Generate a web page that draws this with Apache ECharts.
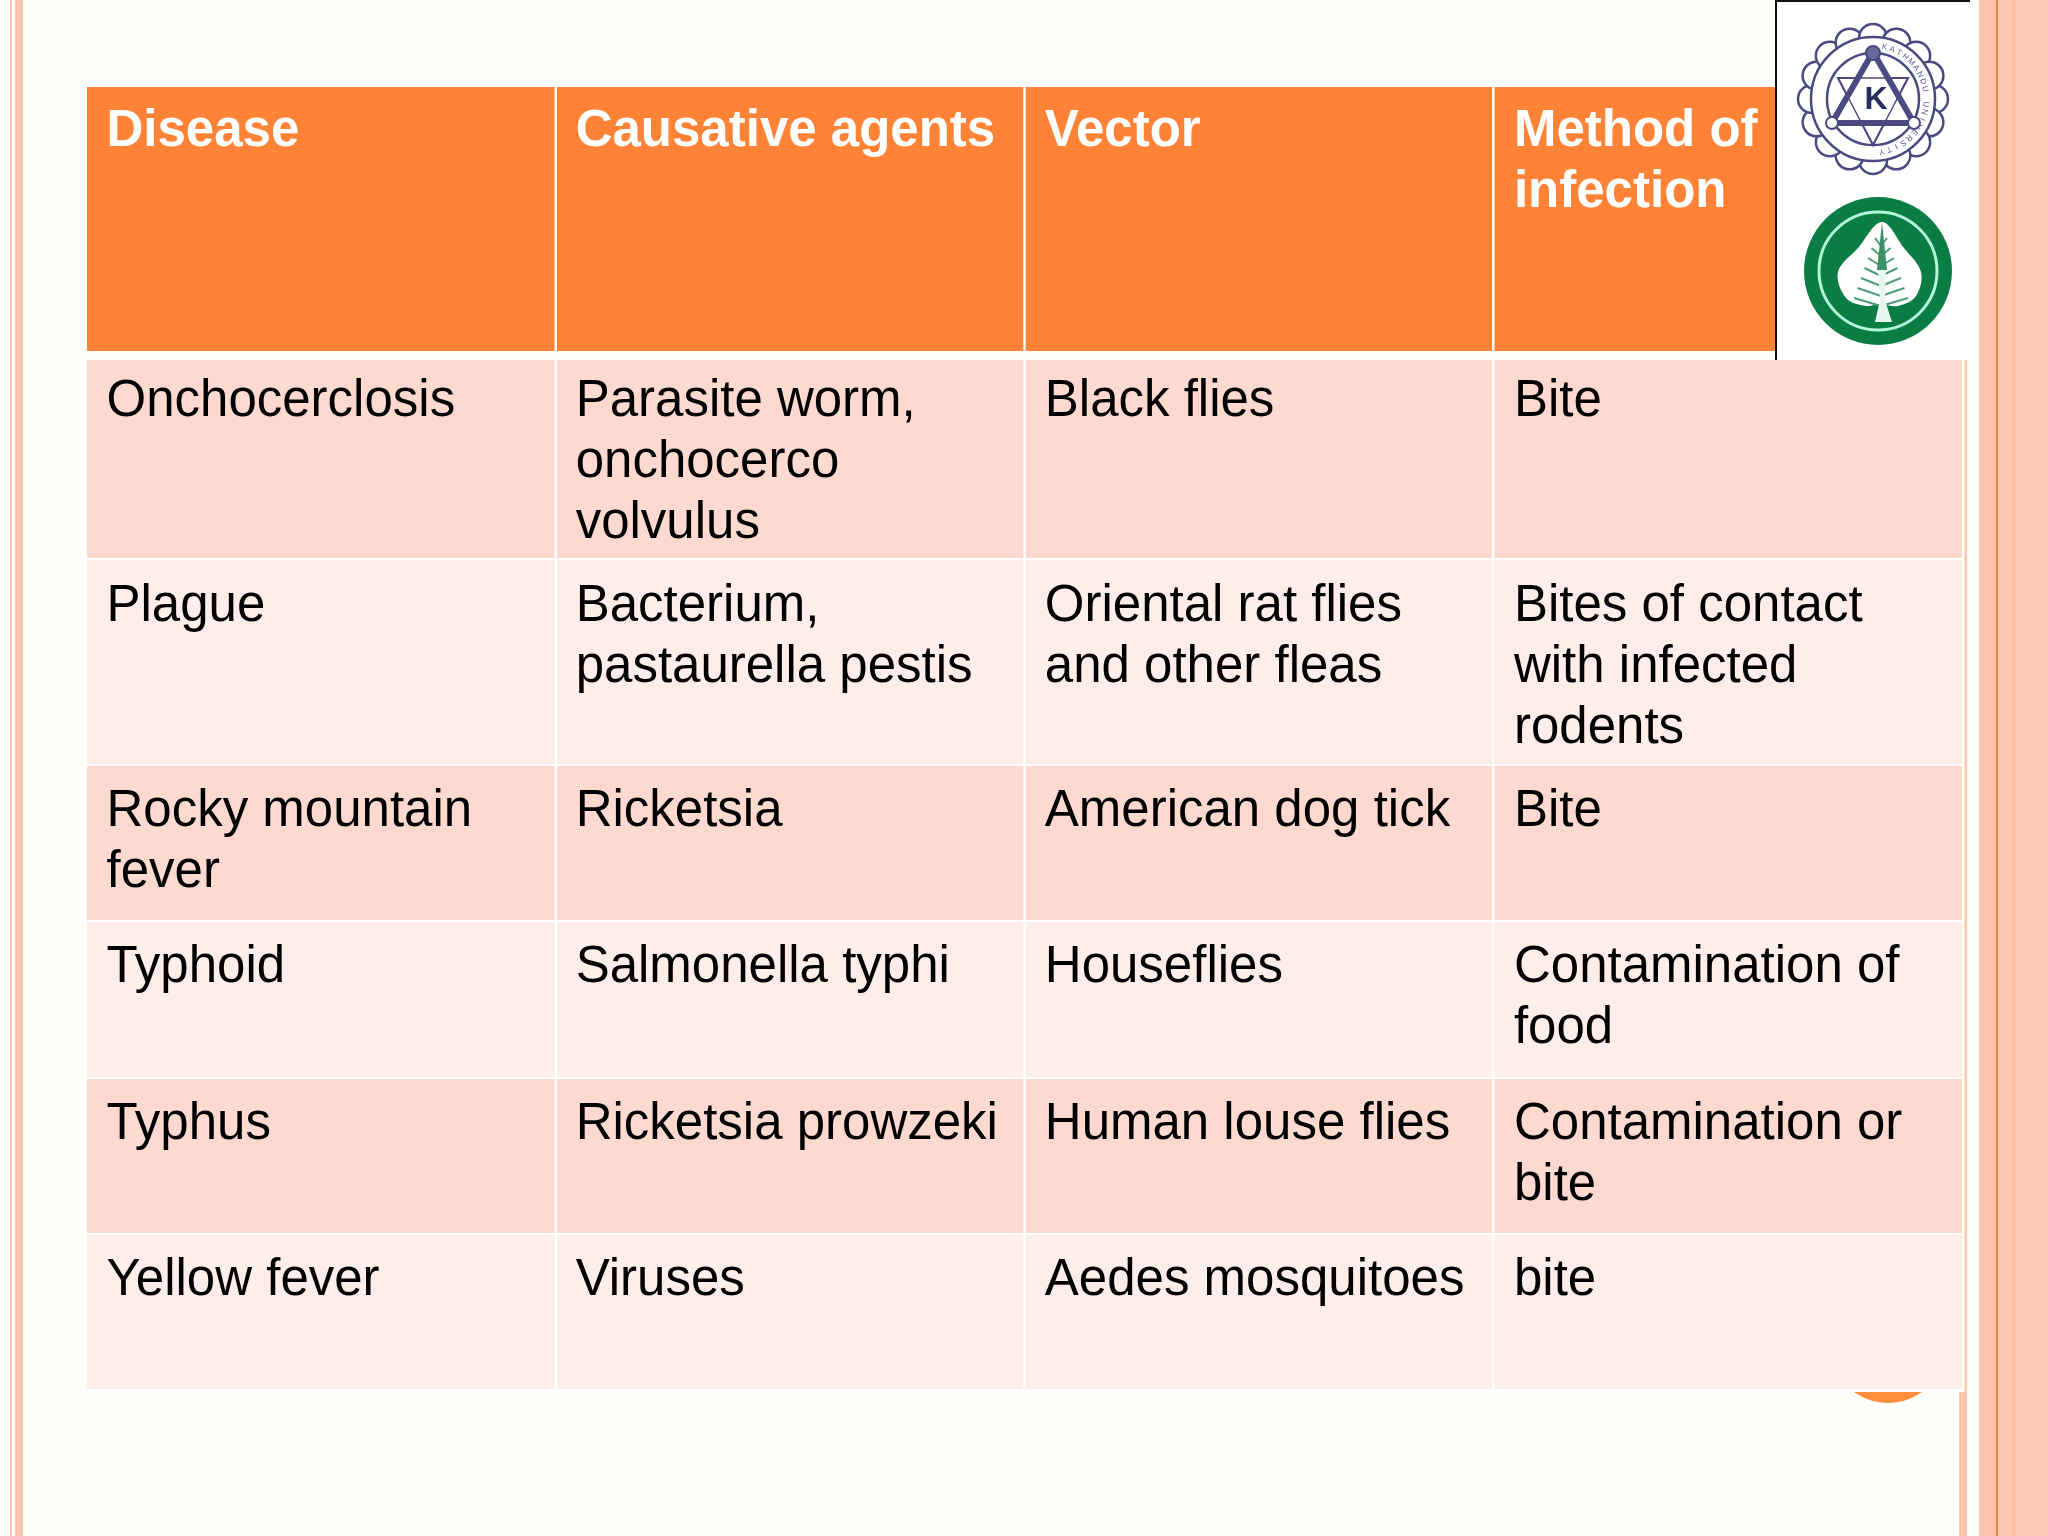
<!DOCTYPE html>
<html lang="en">
<head>
<meta charset="UTF-8">
<title>Vector borne diseases</title>
<script src="https://cdnjs.cloudflare.com/ajax/libs/echarts/6.0.0/echarts.min.js"></script>
<style>
  html, body { margin: 0; padding: 0; background: #fffffc; }
  #chart { width: 2048px; height: 1536px; }
</style>
</head>
<body>
<div id="chart"></div>
<script>
// table content
const columns = ['Disease', 'Causative agents', 'Vector', 'Method of\ninfection'];
const diseases = ['Onchocerclosis', 'Plague', 'Rocky mountain\nfever', 'Typhoid', 'Typhus', 'Yellow fever'];
const agents = ['Parasite worm,\nonchocerco\nvolvulus', 'Bacterium,\npastaurella pestis', 'Ricketsia', 'Salmonella typhi', 'Ricketsia prowzeki', 'Viruses'];
const vectors = ['Black flies', 'Oriental rat flies\nand other fleas', 'American dog tick', 'Houseflies', 'Human louse flies', 'Aedes mosquitoes'];
const methods = ['Bite', 'Bites of contact\nwith infected\nrodents', 'Bite', 'Contamination of\nfood', 'Contamination or\nbite', 'bite'];

// row heights of the slide's table, header first
const rowHeights = [273, 199, 206, 156, 157, 156, 156];
const rowTops = rowHeights.map((h, i) => rowHeights.slice(0, i).reduce((a, b) => a + b, 0));
const textPad = [14, 11, 17, 16, 16, 16, 16];

const bodyRows = diseases.map((d, i) => [d, agents[i], vectors[i], methods[i]]);
const cells = [];
columns.forEach((c, col) => cells.push([col, 0, c]));
bodyRows.forEach((r, i) => r.forEach((t, col) => cells.push([col, i + 1, t])));

const chart = echarts.init(document.getElementById('chart'));

function renderCell(params, api) {
  const col = api.value(0), row = api.value(1);
  const text = cells[params.dataIndex][2];
  const w = api.size([1, 0])[0];
  const left = api.coord([col, 0])[0] - w / 2;
  const top = api.coord([col, rowTops[row]])[1];
  const bottom = api.coord([col, rowTops[row] + rowHeights[row]])[1];
  const header = row === 0;
  const fill = header ? '#ff8336' : (row % 2 ? '#fdd9d0' : '#feede9');
  return {
    type: 'group',
    children: [
      {
        type: 'rect',
        shape: {
          x: left + (col ? 1.2 : 0),
          y: top + (row > 1 ? 1 : 0),
          width: w - (col ? 1.2 : 0) - (col < 3 ? 1.2 : 0),
          height: bottom - top - (header ? 8 : 0) - (row > 1 ? 1 : 0) - 1
        },
        style: { fill: fill }
      },
      {
        type: 'text',
        style: {
          x: left + 19.5 + col * 0.4,
          y: top + textPad[row],
          text: text,
          fill: header ? '#ffffff' : '#000000',
          font: (header ? 'bold ' : '') + '51px "Liberation Sans"',
          lineHeight: 61.3,
          textAlign: 'left',
          textVerticalAlign: 'top'
        }
      }
    ]
  };
}

// seal petals and the lettering round its ring
const petals = [];
for (let i = 0; i < 16; i++) {
  const a = (i / 16) * Math.PI * 2;
  petals.push({
    type: 'circle',
    shape: { cx: 1873 + Math.cos(a) * 61, cy: 99 + Math.sin(a) * 61, r: 14 },
    style: { fill: '#ffffff', stroke: '#4a4a80', lineWidth: 2.5 }
  });
}
const ringText = [];
'KATHMANDU UNIVERSITY'.split('').forEach((ch, i) => {
  const a = -1.35 + i * 0.145;
  ringText.push({
    type: 'text',
    rotation: -(a + Math.PI / 2),
    x: 1873 + Math.cos(a) * 53, y: 99 + Math.sin(a) * 53,
    style: { text: ch, fill: '#55558a', font: '8px "Liberation Sans"', textAlign: 'center', textVerticalAlign: 'middle' }
  });
});
// leaf veins
const veins = [];
for (let i = 0; i < 7; i++) {
  const y = 238 + i * 10, len = 6 + i * 3.5;
  veins.push({ type: 'line', shape: { x1: 1881, y1: y + 8, x2: 1881 - len, y2: y }, style: { stroke: '#4f9d78', lineWidth: 2 } });
  veins.push({ type: 'line', shape: { x1: 1881, y1: y + 8, x2: 1881 + len, y2: y }, style: { stroke: '#4f9d78', lineWidth: 2 } });
}

const stripes = [
  [10, 2, '#fec4b0'], [15, 8, '#fec4b0'],
  [1959, 8, '#fec4b0'], [1979, 17, '#fec4b0'], [1996, 2, '#ff8336'],
  [1998, 14, '#fdc9b6'], [2012, 4, '#fcbca6'], [2016, 32, '#fccbb8']
].map(s => ({
  type: 'rect', silent: true, z: 0,
  shape: { x: s[0], y: 0, width: s[1], height: 1536 },
  style: { fill: s[2] }
}));

const logo = [
  { type: 'rect', shape: { x: 1776, y: 0, width: 203, height: 360 }, style: { fill: '#ffffff' } },
  { type: 'rect', shape: { x: 1775, y: 0, width: 2, height: 360 }, style: { fill: '#111111' } },
  { type: 'rect', shape: { x: 1776, y: 0, width: 194, height: 2 }, style: { fill: '#111111' } },
  ...petals,
  { type: 'circle', shape: { cx: 1873, cy: 99, r: 62 }, style: { fill: '#ffffff', stroke: '#4a4a80', lineWidth: 2.5 } },
  { type: 'circle', shape: { cx: 1873, cy: 99, r: 46 }, style: { fill: '#ffffff', stroke: '#4a4a80', lineWidth: 2.5 } },
  ...ringText,
  { type: 'polygon', shape: { points: [[1873, 145], [1838, 78], [1908, 78]] }, style: { fill: 'none', stroke: '#4a4a80', lineWidth: 2 } },
  { type: 'polygon', shape: { points: [[1873, 52], [1832, 123], [1914, 123]] }, style: { fill: '#ffffff', stroke: '#4a4a80', lineWidth: 6 } },
  { type: 'polygon', shape: { points: [[1873, 145], [1838, 78], [1908, 78]] }, style: { fill: 'none', stroke: '#4a4a80', lineWidth: 1.5 } },
  { type: 'circle', shape: { cx: 1873, cy: 53, r: 7 }, style: { fill: '#6a6a9c', stroke: '#4a4a80', lineWidth: 2 } },
  { type: 'circle', shape: { cx: 1832, cy: 123, r: 6 }, style: { fill: '#ffffff', stroke: '#4a4a80', lineWidth: 2 } },
  { type: 'circle', shape: { cx: 1914, cy: 123, r: 6 }, style: { fill: '#ffffff', stroke: '#4a4a80', lineWidth: 2 } },
  { type: 'text', style: { x: 1876, y: 100, text: 'K', fill: '#2c2c60', font: 'bold 32px "Liberation Sans"', textAlign: 'center', textVerticalAlign: 'middle' } },
  { type: 'circle', shape: { cx: 1878, cy: 271, r: 74 }, style: { fill: '#0a7d45' } },
  { type: 'circle', shape: { cx: 1878, cy: 271, r: 59 }, style: { fill: 'none', stroke: '#b5f5da', lineWidth: 3 } },
  { type: 'polygon', shape: { smooth: 0.35, points: [[1882, 222], [1858, 248], [1838, 272], [1846, 298], [1866, 306], [1880, 304], [1898, 306], [1916, 296], [1921, 272], [1904, 248]] }, style: { fill: '#ffffff' } },
  ...veins,
  { type: 'polygon', shape: { points: [[1882, 222], [1877, 270], [1887, 270]] }, style: { fill: '#3d8f68' } },
  { type: 'polygon', shape: { points: [[1878, 270], [1880, 300], [1875, 322], [1892, 322], [1885, 300], [1886, 270]] }, style: { fill: '#e6f7ef' } }
].map(el => Object.assign({ z: 100, silent: true }, el));

chart.setOption({
  animation: false,
  backgroundColor: '#fffffc',
  grid: { left: 87, top: 87, width: 1875, height: 1303 },
  xAxis: { type: 'category', data: columns, show: false },
  yAxis: { type: 'value', min: 0, max: 1303, inverse: true, show: false },
  graphic: {
    elements: [
      ...stripes,
      { type: 'circle', z: 0, silent: true, shape: { cx: 1888, cy: 1345, r: 58 }, style: { fill: '#ff8f3c' } },
      // white edge that the table sits on
      { type: 'rect', z: 1, silent: true, shape: { x: 87, y: 360, width: 1877.5, height: 1032 }, style: { fill: '#ffffff' } },
      ...logo
    ]
  },
  series: [{
    type: 'custom',
    z: 5,
    silent: true,
    encode: { x: 0, y: 1 },
    data: cells.map(c => [c[0], c[1]]),
    renderItem: renderCell
  }]
});
</script>
</body>
</html>
